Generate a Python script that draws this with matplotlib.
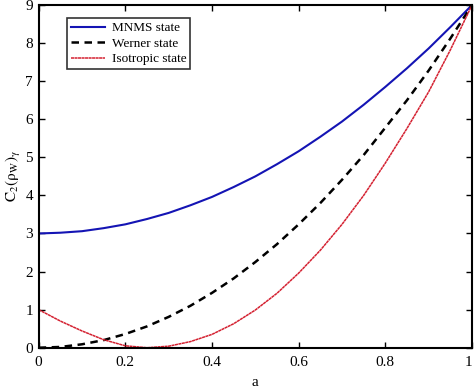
import matplotlib.pyplot as plt

# values
a = [0.0, 0.05, 0.1, 0.15, 0.2, 0.25, 0.3, 0.35, 0.4, 0.45, 0.5,
     0.55, 0.6, 0.65, 0.7, 0.75, 0.8, 0.85, 0.9, 0.95, 1.0]
mnms = [3.00, 3.02, 3.06, 3.14, 3.24, 3.38, 3.54, 3.74, 3.96, 4.22, 4.50,
        4.82, 5.16, 5.54, 5.94, 6.38, 6.85, 7.34, 7.86, 8.42, 9.00]
werner = [0.00, 0.02, 0.09, 0.20, 0.36, 0.56, 0.81, 1.10, 1.44, 1.82, 2.25,
          2.72, 3.24, 3.80, 4.41, 5.06, 5.78, 6.50, 7.28, 8.12, 9.00]
isotropic = [1.00, 0.70, 0.44, 0.21, 0.05, 0.00, 0.04, 0.16, 0.35, 0.63, 0.99,
             1.43, 1.96, 2.56, 3.24, 4.00, 4.85, 5.76, 6.72, 7.82, 9.00]
labels = ['MNMS state', 'Werner state', 'Isotropic state']


def main():
    plt.rcParams['font.family'] = 'Liberation Serif'
    plt.rcParams['mathtext.fontset'] = 'stix'
    fig = plt.figure(figsize=(4.74, 3.91), dpi=100)
    ax = fig.add_axes([0.0816, 0.1107, 0.9142, 0.8765])

    ax.plot(a, mnms, color='#1414b4', lw=1.5, label=labels[0])
    ax.plot(a, werner, color='black', lw=1.8, ls=(0, (3, 2.2)), label=labels[1])
    ax.plot(a, isotropic, color='#d42030', lw=1.1, ls=(0, (2, 0.3)), label=labels[2])

    ax.set_xlim(0, 1)
    ax.set_ylim(0, 9)
    ax.set_xticks([0, 0.2, 0.4, 0.6, 0.8, 1])
    ax.set_xticklabels(['0', '0.2', '0.4', '0.6', '0.8', '1'])
    ax.set_yticks(range(10))
    ax.tick_params(direction='in', top=True, right=True, length=4, width=1,
                   labelsize=11)
    ax.tick_params(axis='x', pad=6)
    ax.tick_params(axis='y', pad=4)
    ax.get_xticklabels()[-1].set_ha('right')
    for s in ax.spines.values():
        s.set_linewidth(1.5)

    ax.set_xlabel('a', fontsize=11, labelpad=5)
    ax.set_ylabel(r'$\mathrm{C}_2(\mathrm{\rho}_\mathrm{W})_\mathrm{\gamma}$',
                  fontsize=11, labelpad=2)

    leg = ax.legend(loc='upper left', bbox_to_anchor=(0.065, 0.962),
                    fontsize=9.5, frameon=True, fancybox=False, edgecolor='black',
                    handlelength=2.6, borderpad=0.3, labelspacing=0.25,
                    borderaxespad=0, handletextpad=0.5)
    leg.get_frame().set_linewidth(1.2)

    fig.savefig('out.png', dpi=100)


if __name__ == "__main__":
    main()
